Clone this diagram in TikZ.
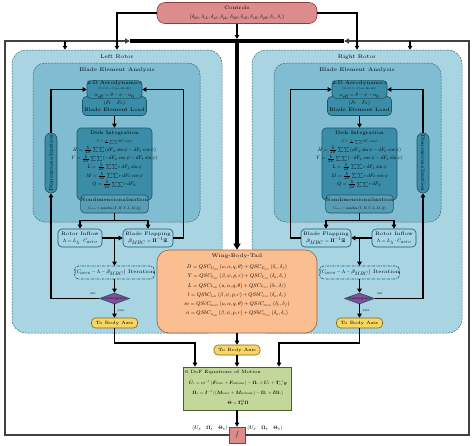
\RequirePackage{fix-cm}
\documentclass[tikz,border=0pt]{standalone}
\usepackage{amsmath,bm}
\usetikzlibrary{positioning,shapes.geometric,arrows.meta}

% one design size for all math, so tiny math stays narrow
\DeclareFontShape{OML}{cmm}{m}{it}{<->cmmi10}{}
\DeclareFontShape{OML}{cmm}{b}{it}{<->cmmib10}{}
\DeclareFontShape{OMS}{cmsy}{m}{n}{<->cmsy10}{}
\DeclareFontShape{OMS}{cmsy}{b}{n}{<->cmbsy10}{}
\DeclareFontShape{OT1}{cmr}{m}{n}{<->cmr10}{}
\DeclareFontShape{OT1}{cmr}{bx}{n}{<->cmbx10}{}
\DeclareFontShape{OMX}{cmex}{m}{n}{<->cmex10}{}

\definecolor{ctrlfill}{HTML}{DC8C8C}
\definecolor{ctrlline}{HTML}{8C3C3C}
\definecolor{rotorfill}{HTML}{A9D4E2}
\definecolor{beafill}{HTML}{80BDD2}
\definecolor{frameline}{HTML}{3C6878}
\definecolor{tealfill}{HTML}{3B8CA6}
\definecolor{tealline}{HTML}{1D5566}
\definecolor{palefill}{HTML}{A6D6E6}
\definecolor{convfill}{HTML}{7F4F98}
\definecolor{yelfill}{HTML}{F7D664}
\definecolor{yelline}{HTML}{7F6A1E}
\definecolor{wbtfill}{HTML}{FABE91}
\definecolor{wbtline}{HTML}{8E6446}
\definecolor{eomfill}{HTML}{C4D79B}
\definecolor{eomline}{HTML}{4C5C2C}

\newcommand{\diskeqs}{Disk Integration\\ \fontsize{3.5}{9.3}\selectfont
  $T=\tfrac{b}{2\pi}\sum\sum dF_z\cos\beta$\\
  $H=\tfrac{b}{2\pi}\sum\sum\left(dF_x\sin\psi-dF_r\cos\psi\right)$\\
  $Y=\tfrac{b}{2\pi}\sum\sum\left(-dF_x\cos\psi-dF_r\sin\psi\right)$\\
  $L=\tfrac{b}{2\pi}\sum\sum r\,dF_z\sin\psi$\\
  $M=\tfrac{b}{2\pi}\sum\sum r\,dF_z\cos\psi$\\
  $Q=\tfrac{b}{2\pi}\sum\sum r\,dF_x$}
\newcommand{\aerotxt}{2-D Aerodynamics\\[-2.5pt] \fontsize{2.8}{3.2}\selectfont
  $\left(C_{l},C_{d}\right)=f\left(\alpha_{\mathrm{eff}},Ma,Re\right)$\\
  $\alpha_{\mathrm{eff}}=\theta-\phi-\alpha_{0}$}
\newcommand{\ndimtxt}{Nondimensionalization\\ \fontsize{3.6}{5}\selectfont
  $C_{aero}=\mathrm{nondim}\left(T,H,Y,L,M,Q\right)$}
\newcommand{\statetxt}{$\left(\bm U_s\quad\bm\Omega_s\quad\bm\Theta_s\right)$}

\begin{document}
\begin{tikzpicture}[x=1pt,y=-1pt,
  ttl/.style={inner sep=0pt,font=\fontsize{5.3}{6}\selectfont},
  eqs/.style={inner sep=0pt,align=center,font=\fontsize{5.4}{9.2}\selectfont},
  lbl/.style={inner sep=0pt,font=\fontsize{3.6}{4}\selectfont},
  rotor/.style={draw=frameline,line width=.5pt,dash pattern=on 2pt off 1pt,fill=rotorfill,rounded corners=14pt,minimum width=210pt,minimum height=283pt},
  bea/.style={rotor,fill=beafill,rounded corners=12pt,minimum width=167pt,minimum height=159pt},
  dark/.style={draw=tealline,line width=.6pt,fill=tealfill,rounded corners=4pt,inner sep=0pt,align=center,font=\fontsize{5}{7.5}\selectfont},
  pale/.style={dark,fill=palefill},
  dimbox/.style={dark,rounded corners=6pt,minimum width=60pt,minimum height=12pt},
  iterbox/.style={pale,minimum width=65pt,minimum height=13pt,dash pattern=on 2.5pt off 1pt on .6pt off 1pt},
  conv/.style={diamond,draw=tealline,line width=.6pt,fill=convfill,aspect=2.7,inner sep=0pt,minimum width=30pt,minimum height=11pt,font=\fontsize{3}{3}\selectfont},
  yel/.style={draw=yelline,line width=.6pt,fill=yelfill,rounded corners=4pt,inner sep=0pt,minimum width=46pt,minimum height=10pt,font=\fontsize{4.6}{5}\selectfont},
  conn/.style={line width=1.4pt},
  arr/.style={conn,-{Triangle[length=4pt,width=4.5pt]}},
  loopline/.style={line width=2pt,draw=black!75,-{Triangle[length=5pt,width=5pt]}},
  bus/.style={line width=3.6pt}]
\useasboundingbox (0,0) rectangle (474,445);

% controls
\node[draw=ctrlline,line width=.6pt,fill=ctrlfill,rounded corners=8pt,minimum width=160pt,minimum height=21pt,inner sep=0pt,align=center,font=\fontsize{5}{8.5}\selectfont] (ctrl) at (237,13) {Controls\\ \fontsize{5.4}{8.5}\selectfont $\left(\delta_{0L},\delta_{cL},\delta_{sL},\delta_{pL},\delta_{0R},\delta_{cR},\delta_{sR},\delta_{pR},\delta_{e},\delta_{r}\right)$};

% rotor frames
\node[rotor] (rotorL) at (117,191.5) {};
\node[rotor] (rotorR) at (357,191.5) {};
\node[ttl] (rotortL) at (117,57) {Left Rotor};
\node[ttl] (rotortR) at (357,57) {Right Rotor};
\node[bea] (beaL) at (116.5,142.5) {};
\node[bea] (beaR) at (357.5,142.5) {};
\node[ttl] (beatL) at (117,70) {Blade Element Analysis};
\node[ttl] (beatR) at (357,70) {Blade Element Analysis};

% left rotor
\node[dark,minimum width=64pt,minimum height=19pt] (loadL) at (114.5,106) {$\left(F_r\quad F_z\right)$\\Blade Element Load};
\node[dark,minimum width=54pt,minimum height=17pt] (aeroL) at (114.5,89.5) {\aerotxt};
\node[dark,minimum width=75pt,minimum height=72pt] (diskL) at (114.5,164) {};
\node[anchor=north,inner sep=0pt,align=center,font=\fontsize{5}{8.6}\selectfont] (diskeqL) at (114.5,130.5) {\diskeqs};
\node[dark,minimum width=65pt,minimum height=18pt,fill=tealfill!85!white] (ndimL) at (114.5,204) {\ndimtxt};
\node[dimbox,rotate=90] (dimL) at (51,163) {Dimensionalization};
\node[pale,minimum width=44pt,minimum height=18pt] (inflowL) at (80,238) {Rotor Inflow\\$\Lambda=L_\lambda\cdot C_{aero}$};
\node[pale,minimum width=50pt,minimum height=18pt] (flapL) at (148,238) {Blade Flapping\\$\bm\beta_{MBC}=\bm\Pi^{-1}\bm\Xi$};
\node[iterbox] (iterL) at (114.5,272.5) {$\left(C_{aero}-\Lambda-\bm\beta_{MBC}\right)$ Iteration};
\node[conv] (convL) at (114.5,298.5) {Convergence};
\node[yel] (bodyL) at (114.5,323) {To Body Axis};
\node[lbl] (noL) at (93,294) {no};
\node[lbl] (yesL) at (121,311) {yes};

% right rotor
\node[dark,minimum width=64pt,minimum height=19pt] (loadR) at (359.5,106) {$\left(F_r\quad F_z\right)$\\Blade Element Load};
\node[dark,minimum width=54pt,minimum height=17pt] (aeroR) at (359.5,89.5) {\aerotxt};
\node[dark,minimum width=75pt,minimum height=72pt] (diskR) at (359.5,164) {};
\node[anchor=north,inner sep=0pt,align=center,font=\fontsize{5}{8.6}\selectfont] (diskeqR) at (359.5,130.5) {\diskeqs};
\node[dark,minimum width=65pt,minimum height=18pt,fill=tealfill!85!white] (ndimR) at (359.5,204) {\ndimtxt};
\node[dimbox,rotate=-90] (dimR) at (423,163) {Dimensionalization};
\node[pale,minimum width=44pt,minimum height=18pt] (inflowR) at (394,238) {Rotor Inflow\\$\Lambda=L_\lambda\cdot C_{aero}$};
\node[pale,minimum width=50pt,minimum height=18pt] (flapR) at (326,238) {Blade Flapping\\$\bm\beta_{MBC}=\bm\Pi^{-1}\bm\Xi$};
\node[iterbox] (iterR) at (359.5,272.5) {$\left(C_{aero}-\Lambda-\bm\beta_{MBC}\right)$ Iteration};
\node[conv] (convR) at (359.5,298.5) {Convergence};
\node[yel] (bodyR) at (359.5,323) {To Body Axis};
\node[lbl] (noR) at (380,294) {no};
\node[lbl] (yesR) at (366,311) {yes};

% airframe and equations of motion
\node[draw=wbtline,line width=.6pt,fill=wbtfill,rounded corners=12pt,minimum width=160pt,minimum height=83pt] (wbt) at (237,291.5) {};
\node[ttl] (wbtt) at (237,256) {Wing-Body-Tail};
\node[eqs,anchor=north] (wbteq) at (237,264.5) {%
  $D=QSC_{D_{wbt}}\left(u,\alpha,q,\theta\right)+QSC_{D_{ctrl}}\left(\delta_e,\delta_f\right)$\\
  $Y=QSC_{Y_{wbt}}\left(\beta,\psi,p,r\right)+QSC_{Y_{ctrl}}\left(\delta_a,\delta_r\right)$\\
  $L=QSC_{L_{wbt}}\left(u,\alpha,q,\theta\right)+QSC_{L_{ctrl}}\left(\delta_e,\delta_f\right)$\\
  $l=QSbC_{l_{wbt}}\left(\beta,\psi,p,r\right)+QSbC_{l_{ctrl}}\left(\delta_a,\delta_r\right)$\\
  $m=QS\bar{c}C_{m_{wbt}}\left(u,\alpha,q,\theta\right)+QS\bar{c}C_{m_{ctrl}}\left(\delta_e,\delta_f\right)$\\
  $n=QSbC_{n_{wbt}}\left(\beta,\psi,p,r\right)+QSbC_{n_{ctrl}}\left(\delta_a,\delta_r\right)$};
\node[yel] (bodyC) at (237,350) {To Body Axis};
\node[draw=eomline,line width=.6pt,fill=eomfill,minimum width=108pt,minimum height=43pt] (eom) at (237,388.5) {};
\node[ttl,anchor=west,font=\fontsize{4.6}{5}\selectfont] (eomt) at (185,372.5) {6 DoF Equations of Motion};
\node[eqs,font=\fontsize{4.7}{10}\selectfont] (eomeq) at (238,392.5) {%
  $\dot{\bm U}_s=m^{-1}\left(\bm F_{\mathrm{rotor}}+\bm F_{\mathrm{airframe}}\right)-\bm\Omega_s\times\bm U_s+\bm T^{-1}_{es}\bm g$\\
  $\dot{\bm\Omega}_s=\bm I^{-1}\left(\left(\bm M_{\mathrm{rotor}}+\bm M_{\mathrm{airframe}}\right)-\bm\Omega_s\times\bm I\bm\Omega_s\right)$\\
  $\dot{\bm\Theta}=\bm T^{\Omega}_{\Theta}\bm\Omega$};
\node[draw=ctrlline,line width=.6pt,fill=ctrlfill,minimum size=16pt,inner sep=0pt,font=\fontsize{6}{6}\selectfont] (int) at (237,435) {$\int$};
\node[lbl,font=\fontsize{5}{5}\selectfont] (stL) at (210,428) {\statetxt};
\node[lbl,font=\fontsize{5}{5}\selectfont] (stR) at (265,428) {\statetxt};

% state loop and bus
\coordinate (cornerL) at (5,41);
\coordinate (cornerR) at (469,41);
\coordinate (busL) at (130,41);
\coordinate (busR) at (344,41);
\coordinate (busC) at (237,41);
\coordinate (feedL) at (65,41);
\coordinate (feedR) at (410,41);
\draw[loopline] (int.west) -| (cornerL) -- (busL);
\draw[loopline] (int.east) -| (cornerR) -- (busR);
\draw[bus] (busL) -- (busR);
\draw[bus,-{Triangle[length=6pt,width=7pt]}] (busC) -- (wbt.north);
\draw[arr] (ctrl.south) -- ([yshift=2pt]busC);
\draw[arr] (ctrl.west) -| (rotorL.north);
\draw[arr] (ctrl.east) -| (rotorR.north);
\draw[arr] (feedL) -- (feedL |- rotorL.north);
\draw[arr] (feedR) -- (feedR |- rotorR.north);

% left rotor links
\draw[arr] (loadL) -- (diskL);
\draw[conn] (ndimL.south) -- ++(0,7) coordinate (splitL);
\draw[conn] (splitL -| inflowL) -- (splitL -| flapL);
\draw[arr] (splitL -| inflowL) -- (inflowL.north);
\draw[arr] (splitL -| flapL) -- (flapL.north);
\draw[arr] (inflowL) -- (flapL);
\draw[arr] (inflowL.east -| iterL) -- (iterL);
\draw[arr] (iterL) -- (convL);
\draw[arr] (convL) -- (bodyL);
\draw[arr] (convL.west) -| (dimL.west);
\draw[arr] (dimL.east) |- (aeroL.west);
\draw[arr] (flapL.east) -- ++(10,0) |- (aeroL.east);
\draw[arr] (bodyL) -- ++(0,20) -| ([xshift=-42pt]eom.north);

% right rotor links
\draw[arr] (loadR) -- (diskR);
\draw[conn] (ndimR.south) -- ++(0,7) coordinate (splitR);
\draw[conn] (splitR -| inflowR) -- (splitR -| flapR);
\draw[arr] (splitR -| inflowR) -- (inflowR.north);
\draw[arr] (splitR -| flapR) -- (flapR.north);
\draw[arr] (inflowR) -- (flapR);
\draw[arr] (inflowR.west -| iterR) -- (iterR);
\draw[arr] (iterR) -- (convR);
\draw[arr] (convR) -- (bodyR);
\draw[arr] (convR.east) -| (dimR.east);
\draw[arr] (dimR.west) |- (aeroR.east);
\draw[arr] (flapR.west) -- ++(-10,0) |- (aeroR.west);
\draw[arr] (bodyR) -- ++(0,20) -| ([xshift=42pt]eom.north);

% airframe links
\draw[arr] (wbt) -- (bodyC);
\draw[arr] (bodyC) -- (eom);
\draw[arr] (eom) -- (int);
\end{tikzpicture}
\end{document}
